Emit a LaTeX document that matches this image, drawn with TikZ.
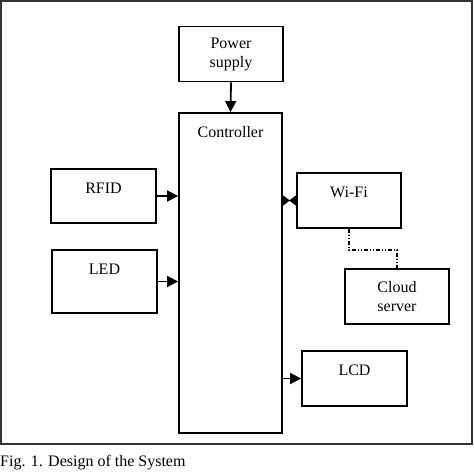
\documentclass[tikz,border=0pt]{standalone}
\usepackage{fontspec}
\setmainfont{Liberation Serif}
\usepackage{tikz}
\usetikzlibrary{calc}
\usetikzlibrary{arrows.meta}
\usetikzlibrary{positioning}
\tikzset{
  blk/.style={draw, line width=1.8pt, inner sep=0pt, minimum width=104pt, minimum height=55pt, align=center},
  toptxt/.style={text height=24pt, text depth=#1},
  arr/.style={line width=1.8pt, -{Triangle[length=11pt,width=11pt]}},
  link/.style={line width=1.2pt, dash pattern=on 4pt off 2pt on 1pt off 2pt on 1pt off 2pt}
}

\begin{document}
\begin{tikzpicture}[x=1pt, y=1pt, font=\fontsize{16}{19}\selectfont]
            \useasboundingbox (0,0) rectangle (474,-475);
            \draw[black!80, line width=2.5pt] (1.2,-1.2) rectangle (472,-444);
            \node[blk]                                             (psu)   at (231,-54)    {Power\\supply};
            \node[blk, minimum width=103pt, minimum height=320pt, toptxt=296pt] (ctrl) at (230.5,-273) {Controller};
            \node[blk, minimum width=105pt, minimum height=54pt, toptxt=30pt]   (rfid) at (103.5,-196) {RFID};
            \node[blk, minimum width=105pt, minimum height=63pt, toptxt=39pt]   (led)  at (104.5,-281.5) {LED};
            \node[blk, toptxt=31pt]                                (wifi)  at (349,-200.5) {Wi-Fi};
            \node[blk]                                             (cloud) at (397,-296.5) {Cloud\\server};
            \node[blk, minimum width=105pt, toptxt=31pt]           (lcd)   at (354.5,-378.5) {LCD};
            \node[anchor=base west, inner sep=0pt]                 (cap)   at (0,-466) {Fig. 1. Design of the System};
            \draw[arr] (psu.south) -- (ctrl.north);
            \draw[arr] (rfid.east) -- (rfid.east -| ctrl.west);
            \draw[arr] (led.east) -- (led.east -| ctrl.west);
            \draw[arr] (ctrl.east |- lcd.west) -- (lcd.west);
            \draw[line width=1.8pt, {Triangle[reversed,length=7pt,width=10pt]}-{Triangle[reversed,length=7pt,width=10pt]}] (ctrl.east |- wifi.west) -- (wifi.west);
            \draw[link] (wifi.south) -- ++(0,-21) -| (cloud.north);
        \end{tikzpicture}
\end{document}
